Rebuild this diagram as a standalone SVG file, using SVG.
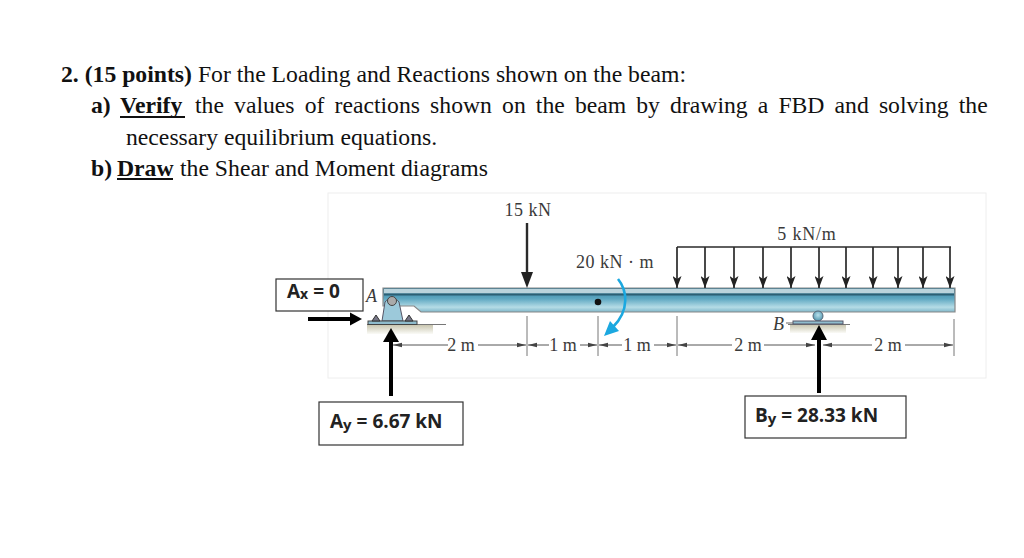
<svg xmlns="http://www.w3.org/2000/svg" width="1024" height="558" viewBox="0 0 1024 558">
<style>
.t{font-family:"Liberation Serif","Times New Roman",serif;font-size:23.7px;fill:#111}
.b{font-weight:700}
.f{font-family:"Liberation Serif","Times New Roman",serif;font-size:18px;fill:#3a3a3a}
.i{font-style:italic}
.k{font-family:"Open Sans","Liberation Sans",sans-serif;font-weight:700;font-size:19px;fill:#222}
.box{fill:#fff;stroke:#333;stroke-width:1.2}
.load{stroke:#2a2a2a;stroke-width:1.7;fill:none}
.heavy{stroke:#000;stroke-width:4;fill:none}
.dim{stroke:#555;stroke-width:1;fill:none}
.tick{stroke:#777;stroke-width:1;fill:none}
</style>
<defs>
<linearGradient id="web" x1="0" y1="0" x2="0" y2="1">
<stop offset="0" stop-color="#2f7d9c"/><stop offset=".45" stop-color="#5fa8c2"/><stop offset=".8" stop-color="#b5dce6"/><stop offset="1" stop-color="#7fb7ca"/>
</linearGradient>
<linearGradient id="ground" x1="0" y1="0" x2="0" y2="1">
<stop offset="0" stop-color="#c9c6b0"/><stop offset="1" stop-color="#fbfbf7"/>
</linearGradient>
<radialGradient id="ball" cx=".5" cy=".4" r=".6"><stop offset="0" stop-color="#b8e0ec"/><stop offset="1" stop-color="#4f94ad"/></radialGradient>
<marker id="small" markerWidth="12" markerHeight="9" refX="12" refY="4.5" orient="auto" markerUnits="userSpaceOnUse"><path d="M0 0L12 4.5L0 9L3 4.5Z" fill="#222"/></marker>
<marker id="dimEnd" markerWidth="9" markerHeight="6" refX="9" refY="3" orient="auto" markerUnits="userSpaceOnUse"><path d="M0 .8L9 3L0 5.2Z" fill="#444"/></marker>
</defs>
<rect width="1024" height="558" fill="#fff"/>

<g id="question">
<text class="t" x="61" y="82"><tspan class="b">2. (15 points)</tspan> For the Loading and Reactions shown on the beam:</text>
<text class="t" x="91" y="113"><tspan class="b">a)</tspan></text>
<text class="t b" x="120" y="113">Verify</text>
<line x1="120" y1="117" x2="185" y2="117" stroke="#111" stroke-width="2"/>
<text class="t" x="195" y="113" word-spacing="4.18">the values of reactions shown on the beam by drawing a FBD and solving the</text>
<text class="t" x="126" y="145">necessary equilibrium equations.</text>
<text class="t" x="91" y="176"><tspan class="b">b)</tspan></text>
<text class="t b" x="117" y="176">Draw</text>
<line x1="117" y1="179" x2="173" y2="179" stroke="#111" stroke-width="2"/>
<text class="t" x="180" y="176">the Shear and Moment diagrams</text>
</g>

<rect id="figure-panel" x="328" y="193" width="658" height="185" fill="#fff" stroke="#eee" stroke-width="1"/>

<g id="ground-a"><rect x="367" y="325" width="66" height="9" fill="url(#ground)"/><line x1="367" y1="324.5" x2="446" y2="324.5" stroke="#777" stroke-width="1.2"/></g>
<g id="ground-b"><rect x="790" y="325" width="56" height="8" fill="url(#ground)"/><line x1="788" y1="324.5" x2="850" y2="324.5" stroke="#777" stroke-width="1.2"/></g>

<g id="beam">
<path d="M383 288H955V312H421L414 306H383Z" fill="url(#web)" stroke="#888" stroke-width="1.2"/>
<rect x="384" y="289" width="570" height="4.5" fill="#b9d3dc"/>
<rect x="384" y="293.5" width="570" height="2" fill="#2b5f74"/>
</g>

<g id="support-a">
<path d="M382 321L385 302A8.5 8.5 0 0 1 399 302L403 321Z" fill="#9cc9da" stroke="#556" stroke-width="1"/>
<circle cx="392" cy="301" r="4.5" fill="#aaa" stroke="#444" stroke-width="1"/>
<rect x="368" y="321" width="49" height="3.5" fill="#8fbccd" stroke="#444" stroke-width="1"/>
<path d="M372 321L376 315L380 321Z" fill="#778" stroke="#333" stroke-width="1"/>
<path d="M405 321L409 315L413 321Z" fill="#778" stroke="#333" stroke-width="1"/>
<text class="f i" x="366" y="302">A</text>
</g>

<g id="support-b">
<circle cx="818" cy="316" r="5" fill="url(#ball)" stroke="#567" stroke-width="1"/>
<rect x="793" y="321" width="50" height="3" fill="#8fbccd" stroke="#556" stroke-width="1"/>
<line x1="786" y1="323" x2="793" y2="323" stroke="#666"/>
<text class="f i" x="773" y="330">B</text>
</g>

<g id="connectors">
<path class="load" style="stroke-width:2.4" d="M527 223V274"/><path d="M521 272H533L527 288Z" fill="#222"/>
<path class="load" d="M677 247H951"/>
<g class="load">
<path d="M677 247V288" marker-end="url(#small)"/><path d="M705 247V288" marker-end="url(#small)"/><path d="M734 247V288" marker-end="url(#small)"/><path d="M763 247V288" marker-end="url(#small)"/><path d="M791 247V288" marker-end="url(#small)"/><path d="M819 247V288" marker-end="url(#small)"/><path d="M846 247V288" marker-end="url(#small)"/><path d="M873 247V288" marker-end="url(#small)"/><path d="M898 247V288" marker-end="url(#small)"/><path d="M923 247V288" marker-end="url(#small)"/><path d="M950 247V288" marker-end="url(#small)"/>
</g>
<path class="tick" d="M527 316V356M598 316V356M677 316V356M954 319V356"/>
<g class="dim">
<path d="M448 345H393" marker-end="url(#dimEnd)"/><path d="M478 345H526" marker-end="url(#dimEnd)"/>
<path d="M549 345H528" marker-end="url(#dimEnd)"/><path d="M580 345H597" marker-end="url(#dimEnd)"/>
<path d="M622 345H599" marker-end="url(#dimEnd)"/><path d="M654 345H676" marker-end="url(#dimEnd)"/>
<path d="M732 345H678" marker-end="url(#dimEnd)"/><path d="M764 345H815" marker-end="url(#dimEnd)"/>
<path d="M872 345H823" marker-end="url(#dimEnd)"/><path d="M905 345H953" marker-end="url(#dimEnd)"/>
</g>
<path d="M618 279C627 290 630 310 613 327" fill="none" stroke="#1ba8e0" stroke-width="2.6"/>
<path d="M604 336L610 321L619 331Z" fill="#1ba8e0"/>
<path class="heavy" d="M308 319H352"/><path d="M350 312.5L362 319L350 325.5Z" fill="#000"/>
<path class="heavy" d="M391 396V340"/><path d="M383 342L391 328L399 342Z" fill="#000"/>
<path class="heavy" d="M819 393V338"/><path d="M811 340L819 325L827 340Z" fill="#000"/>
</g>

<g id="label-15kn"><text class="f" x="528" y="216" text-anchor="middle" letter-spacing=".5">15 kN</text></g>
<g id="label-5knm"><text class="f" x="807" y="240" text-anchor="middle" letter-spacing=".8">5 kN/m</text></g>
<g id="label-20knm"><circle cx="598" cy="302" r="3.3" fill="#111"/><text class="f" x="615" y="268" text-anchor="middle" letter-spacing=".5">20 kN · m</text></g>
<g id="dimension-labels">
<text class="f" x="461" y="351" text-anchor="middle">2 m</text>
<text class="f" x="563" y="351" text-anchor="middle">1 m</text>
<text class="f" x="637" y="351" text-anchor="middle">1 m</text>
<text class="f" x="748" y="351" text-anchor="middle">2 m</text>
<text class="f" x="888" y="351" text-anchor="middle">2 m</text>
</g>

<g id="node-ax"><rect class="box" x="276" y="279" width="87" height="32"/><text class="k" x="287" y="298">A<tspan font-size="14" dy="1">x</tspan><tspan dy="-1"> = 0</tspan></text></g>
<g id="node-ay"><rect class="box" x="319" y="402" width="144" height="43"/><text class="k" x="330" y="428">A<tspan font-size="15" dy="2">y</tspan><tspan dy="-2"> = 6.67 kN</tspan></text></g>
<g id="node-by"><rect class="box" x="745" y="396" width="161" height="42"/><text class="k" x="755" y="422">B<tspan font-size="15" dy="2">y</tspan><tspan dy="-2"> = 28.33 kN</tspan></text></g>
</svg>
